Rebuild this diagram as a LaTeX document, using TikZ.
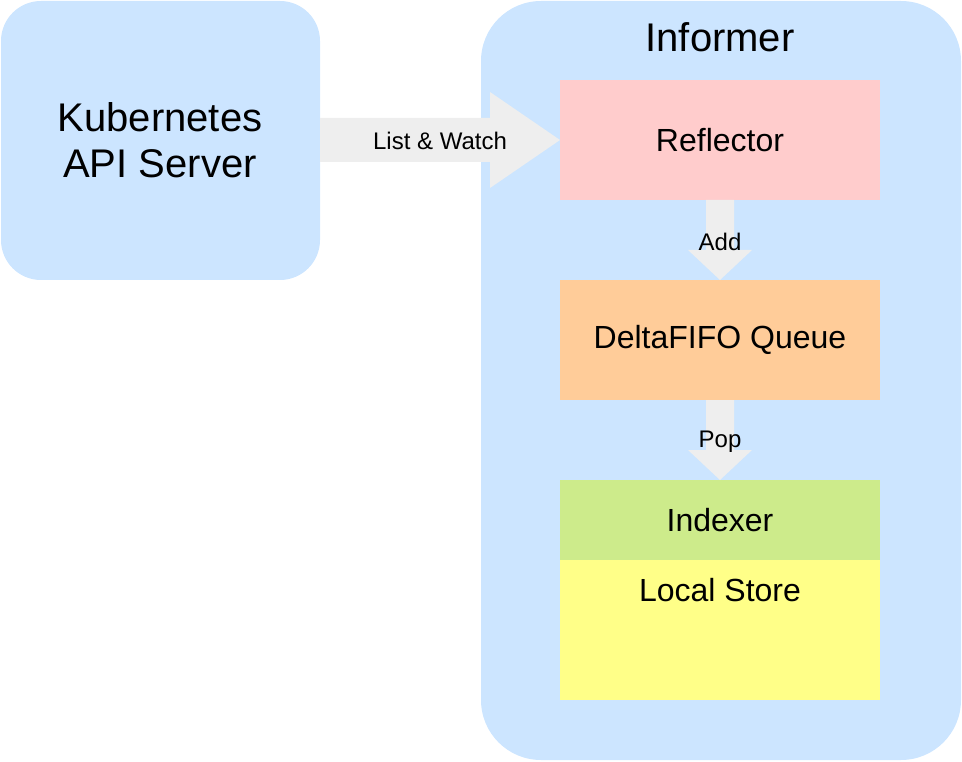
\documentclass[tikz,border=0pt]{standalone}
\usepackage{fontspec}
\setmainfont{Liberation Sans}
\definecolor{bluebg}{HTML}{CCE5FF}
\definecolor{refl}{HTML}{FFCCCC}
\definecolor{fifo}{HTML}{FFCC99}
\definecolor{idx}{HTML}{CDEB8B}
\definecolor{store}{HTML}{FFFF88}
\definecolor{arr}{HTML}{EEEEEE}
\begin{document}
\begin{tikzpicture}[x=1pt,y=-1pt,
  big/.style={font=\fontsize{32}{38}\selectfont},
  small/.style={font=\fontsize{24}{28}\selectfont}]
\useasboundingbox (0,0) rectangle (962,762);
\fill[bluebg,rounded corners=40] (1,1) rectangle (320,280);
\node[font=\fontsize{40}{46}\selectfont,align=center] (k8s) at (160,140) {Kubernetes\\API Server};
\fill[bluebg,rounded corners=60] (481,1) rectangle (961,760);
\node[font=\fontsize{40}{46}\selectfont] (inf) at (720,37) {Informer};
\fill[refl] (560,80) rectangle (880,200);
\node[big] (refl) at (720,140) {Reflector};
\fill[fifo] (560,280) rectangle (880,400);
\node[big] (fifo) at (720,340) {DeltaFIFO Queue};
\fill[idx] (560,480) rectangle (880,560);
\node[big] (idx) at (720,520) {Indexer};
\fill[store] (560,560) rectangle (880,700);
\node[big] (store) at (720,590) {Local Store};
\fill[arr] (320,118) -- (490,118) -- (490,92) -- (560,140) -- (490,188) -- (490,162) -- (320,162) -- cycle;
\node[small] (lw) at (440,141) {List \& Watch};
\fill[arr] (706,200) -- (734,200) -- (734,250) -- (752,250) -- (720,280) -- (688,250) -- (706,250) -- cycle;
\node[small] (add) at (720,242) {Add};
\fill[arr] (706,400) -- (734,400) -- (734,450) -- (752,450) -- (720,480) -- (688,450) -- (706,450) -- cycle;
\node[small] (pop) at (720,442) {Pop};
\end{tikzpicture}
\end{document}
